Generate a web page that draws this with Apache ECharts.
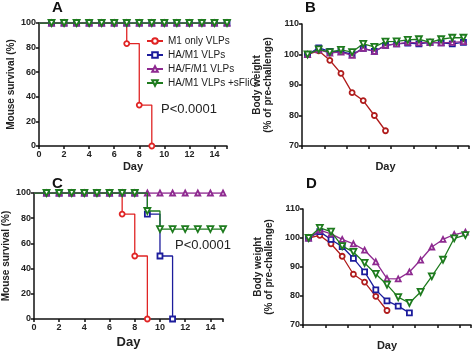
<!DOCTYPE html>
<html lang="en">
<head>
    <meta charset="UTF-8">
    <title>vlp_challenge</title>
    <script src="https://cdn.jsdelivr.net/npm/echarts@6/dist/echarts.min.js"></script>
    <style>
        body{margin:0;background:#fff}
        #main{width:474px;height:354px}
    </style>
</head>
<body>
<div id="main"></div>
<script>
    var names = ['M1 only VLPs', 'HA/M1 VLPs', 'HA/F/M1 VLPs', 'HA/M1 VLPs +sFliC'];
    var days = [0, 1, 2, 3, 4, 5, 6, 7, 8, 9, 10, 11, 12, 13, 14, 15];

    // A - survival (day 0..)
    var survA_m1   = [100, 100, 100, 100, 100, 100, 100, 83.3, 33.3, 0];
    var survA_ha   = [100, 100, 100, 100, 100, 100, 100, 100, 100, 100, 100, 100, 100, 100, 100, 100];
    var survA_haf  = [100, 100, 100, 100, 100, 100, 100, 100, 100, 100, 100, 100, 100, 100, 100, 100];
    var survA_fli  = [100, 100, 100, 100, 100, 100, 100, 100, 100, 100, 100, 100, 100, 100, 100, 100];

    // B - body weight (day 1..)
    var wB_m1  = [100, 101.2, 98.1, 93.8, 87.5, 84.9, 80, 75];
    var wB_ha  = [100, 102.2, 101, 101, 100, 102, 101, 103, 103.5, 103.7, 103.5, 104, 103.8, 103.5, 104];
    var wB_haf = [100, 101.5, 100.5, 100.8, 99.7, 102, 101, 103, 103.5, 104, 103.8, 104, 103.8, 104, 104.2];
    var wB_fli = [100, 101.7, 100.8, 101.5, 100.8, 103.5, 102.5, 104.2, 104.3, 104.8, 105, 104, 105, 105.5, 105.5];

    // C - survival (day 0..)
    var survC_m1  = [100, 100, 100, 100, 100, 100, 100, 83.3, 50, 0];
    var survC_ha  = [100, 100, 100, 100, 100, 100, 100, 100, 100, 83.3, 50, 0];
    var survC_haf = [100, 100, 100, 100, 100, 100, 100, 100, 100, 100, 100, 100, 100, 100, 100, 100];
    var survC_fli = [100, 100, 100, 100, 100, 100, 100, 100, 100, 85.7, 71.4, 71.4, 71.4, 71.4, 71.4, 71.4];

    // D - body weight (day 1..)
    var wD_m1  = [100, 100.9, 98, 93.7, 87.5, 84.8, 79.9, 75];
    var wD_ha  = [100, 102.2, 99.5, 97, 93, 88.3, 82.1, 78.3, 76.5, 74.2];
    var wD_haf = [100, 102.7, 101.4, 99.5, 98, 95.8, 91.8, 86, 85.9, 88.3, 92.4, 96.9, 99.5, 101.2, 102];
    var wD_fli = [100, 103.5, 102.2, 97.2, 95.2, 91.4, 87.6, 83.9, 79.6, 77.6, 81.4, 86.8, 92.5, 99.9, 101];

    var colSurv = ['#e02424', '#1c1c9c', '#8e2a90', '#1e7b1e'];
    var colWt   = ['#b01c1c', '#1c1c9c', '#8e2a90', '#1e7b1e'];
    var symbols = ['circle', 'rect', 'triangle', 'path://M0,0 L10,0 L5,9 Z'];

    var font = 'Liberation Sans, Arial, sans-serif';

    function survPts(arr) {
        var out = [];
        for (var i = 0; i < arr.length; i++) {
            if (days[i] === 0) out.push({value: [0, arr[i]], symbol: 'none'});
            else out.push([days[i], arr[i]]);
        }
        return out;
    }
    function wtPts(arr) {
        var out = [];
        for (var i = 0; i < arr.length; i++) out.push([days[i + 1], arr[i]]);
        return out;
    }

    function xAx(idx, min, max, big) {
        return {
            type: 'value', gridIndex: idx, min: min, max: max, interval: 2,
            name: 'Day', nameLocation: 'middle', nameGap: big ? 17 : 15,
            nameTextStyle: {fontFamily: font, fontSize: big ? 13 : 11, fontWeight: 'bold', color: '#222'},
            axisLine: {lineStyle: {color: '#111', width: 1.5}},
            axisTick: {length: 3, lineStyle: {color: '#111', width: 1.5}},
            axisLabel: {fontFamily: font, fontSize: 9, fontWeight: 'bold', color: '#222', margin: 4,
                formatter: function (v) { return (v % 2 === 0) ? v : ''; }},
            splitLine: {show: false}
        };
    }
    function yAx(idx, min, max, interval, name, gap) {
        return {
            type: 'value', gridIndex: idx, min: min, max: max, interval: interval,
            name: name, nameLocation: 'middle', nameGap: gap,
            nameTextStyle: {fontFamily: font, fontSize: 10, fontWeight: 'bold', color: '#222', lineHeight: 11},
            axisLine: {show: true, lineStyle: {color: '#111', width: 1.5}},
            axisTick: {show: true, length: 3, lineStyle: {color: '#111', width: 1.5}},
            axisLabel: {fontFamily: font, fontSize: 9, fontWeight: 'bold', color: '#222', margin: 3},
            splitLine: {show: false}
        };
    }

    var series = [];
    function addSet(list, gi, cols, step) {
        for (var k = 0; k < 4; k++) {
            series.push({
                name: names[k], type: 'line', xAxisIndex: gi, yAxisIndex: gi,
                data: list[k], step: step ? 'end' : false,
                symbol: symbols[k], symbolSize: k === 3 ? 6 : 5,
                showAllSymbol: true,
                lineStyle: {color: cols[k], width: 1.3},
                itemStyle: {color: '#fff', borderColor: cols[k], borderWidth: 1.8},
                z: 2 + k, animation: false
            });
        }
    }
    addSet([survPts(survA_m1), survPts(survA_ha), survPts(survA_haf), survPts(survA_fli)], 0, colSurv, true);
    addSet([wtPts(wB_m1), wtPts(wB_ha), wtPts(wB_haf), wtPts(wB_fli)], 1, colWt, false);
    addSet([survPts(survC_m1), survPts(survC_ha), survPts(survC_haf), survPts(survC_fli)], 2, colSurv, true);
    addSet([wtPts(wD_m1), wtPts(wD_ha), wtPts(wD_haf), wtPts(wD_fli)], 3, colWt, false);

    var chart = echarts.init(document.getElementById('main'));
    chart.setOption({
        animation: false,
        grid: [
            {left: 39, top: 23, width: 188, height: 123},
            {left: 302, top: 24, width: 167, height: 122},
            {left: 33, top: 193, width: 190, height: 126},
            {left: 303, top: 209, width: 168, height: 116}
        ],
        xAxis: [xAx(0, 0, 15, false), xAx(1, 0.5, 15.5, false), xAx(2, 0, 15, true), xAx(3, 0.5, 15.5, false)],
        yAxis: [
            yAx(0, 0, 100, 20, 'Mouse survival (%)', 21),
            yAx(1, 70, 110, 10, 'Body weight\n(% of pre-challenge)', 28),
            yAx(2, 0, 100, 20, 'Mouse survival (%)', 19),
            yAx(3, 70, 110, 10, 'Body weight\n(% of pre-challenge)', 28)
        ],
        legend: {
            show: true, orient: 'vertical', left: 141, top: 31, itemGap: 4,
            itemWidth: 16, itemHeight: 7,
            data: names,
            textStyle: {fontFamily: font, fontSize: 10, color: '#222'}
        },
        graphic: [
            {type: 'text', left: 52, top: 0, style: {text: 'A', font: 'bold 15px ' + font, fill: '#111'}},
            {type: 'text', left: 305, top: 0, style: {text: 'B', font: 'bold 15px ' + font, fill: '#111'}},
            {type: 'text', left: 52, top: 176, style: {text: 'C', font: 'bold 15px ' + font, fill: '#111'}},
            {type: 'text', left: 306, top: 176, style: {text: 'D', font: 'bold 15px ' + font, fill: '#111'}},
            {type: 'text', left: 161, top: 103, style: {text: 'P<0.0001', font: '13px ' + font, fill: '#222'}},
            {type: 'text', left: 175, top: 239, style: {text: 'P<0.0001', font: '13px ' + font, fill: '#222'}}
        ],
        series: series
    });
</script>
</body>
</html>
